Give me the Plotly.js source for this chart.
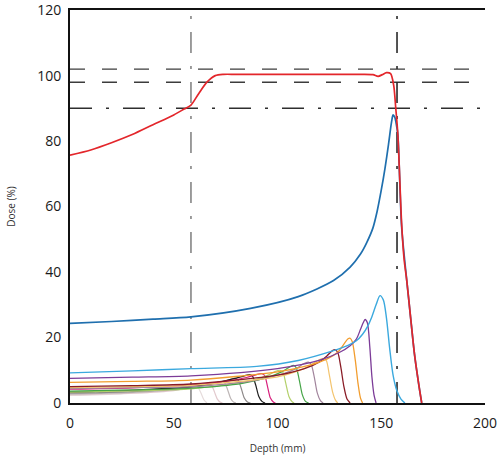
<!DOCTYPE html>
<html>
<head>
<meta charset="utf-8">
<script src="https://cdn.plot.ly/plotly-3.0.1.min.js"></script>
<style>html,body{margin:0;padding:0;background:#fff;}#chart{width:500px;height:459px;}</style>
</head>
<body>
<div id="chart"></div>
<script>
// ---- Data ----
const xTicks = [0, 50, 100, 150, 200];
const yTicks = [0, 20, 40, 60, 80, 100, 120];

// Reference levels (%) and depths (mm)
const refDashedLevels = [102, 98];
const refDashDotLevel = 90;
const refProximalDepth = 58.3;
const refDistalDepth = 157.6;

// Spread-out Bragg peak (red)
const sobpDepth = [0,10,20,30,40,50,55,58.3,62,66,70,74,80,100,120,140,146,148.5,150.5,152.5,154.5,156,157,158,159.8,161,162.3,164,166,168,169.5];
const sobpDose  = [75.7,77.3,79.5,82,85,88,89.8,91,94.5,98,100,100.4,100.4,100.4,100.4,100.4,100.3,99.8,100.3,100.9,100.6,97,90,82,55,44,37.4,27,15,6,0];

// Deepest weighted peak (dark blue)
const deepDepth = [0,20,40,58.3,87,110,127,135,140,143,146,148,150,151.8,153.5,155,155.7,156.5,157.3,158,159.8,162.3,164,166,168,169.5];
const deepDose  = [24.3,24.9,25.6,26.3,28.9,32.5,37.4,41.5,45.5,49,53.5,58.5,65,71.7,79,86,88,87.3,85,82,54,37.4,27,15,6,0];

// Pristine peaks
const cyanDepth = [0,30,58.3,90,110,127,134,138,141,143.5,145.4,147.5,149.4,151,152.5,154,155.7,157.5,159.5,161.4];
const cyanDose  = [9.2,9.8,10.5,11.2,13,16,17.6,19,21,23.5,26.2,30,32.8,31.5,26,17,8.5,3.8,1.2,0];

const purpleDepth = [0,30,58.3,100,120,130,135,138,140,141.3,142.2,143.3,144.5,145.5,146.5,147.5];
const purpleDose  = [7.5,7.9,8.3,10.5,13,15.5,17.5,19.5,22.5,24.5,25.5,24.5,17,8,2.5,0];

const orangeDepth = [0,30,58.3,100,115,124,129,132,134,134.9,136,137.5,138.8,140,141];
const orangeDose  = [6.3,6.6,7,9.5,11.5,13.5,15.5,18,19.6,19.8,18.8,13,6,1.5,0];

const maroonDepth = [0,30,58.3,100,113,120,124,126.5,127.7,129,130.5,132,133.5,135];
const maroonDose  = [5,5.3,5.8,8.5,10.5,12.5,14.5,16,16.3,15.5,11,5,1.2,0];

const lightOrangeDepth = [0,30,58.3,100,110,116,119.5,122.1,123.5,125,126.5,128,129];
const lightOrangeDose  = [4.7,5,5.4,8,9.8,11.5,13,13.6,13,8.5,3.5,0.8,0];

const mauveDepth = [0,30,58.3,90,103,109,112.5,114.8,116.2,117.7,119.2,120.7,122];
const mauveDose  = [4.4,4.7,5,7,9,10.5,12,12.5,11.8,8,3,0.7,0];

const greenDepth = [0,30,58.3,83,96,102,105.3,107.6,109,110.5,112,113.5,115];
const greenDose  = [3.6,4,4.5,6,8,9.5,10.8,11.5,10.8,7,2.5,0.5,0];

const limeDepth = [0,30,58.3,78,90,95.5,98.8,101.2,102.6,104,105.5,107,108];
const limeDose  = [3.3,3.7,4.3,5.8,7.3,8.5,9.6,10,9.4,6,2,0.4,0];

const magentaDepth = [0,30,58.3,75,85,89.5,92.4,93.8,95.2,96.6,98,99];
const magentaDose  = [4.2,4.6,5.5,6.6,7.8,8.6,9,8.4,5,1.5,0.3,0];

const blackDepth = [0,30,58.3,72,80,84,86.7,88,89.5,91,92.5,94];
const blackDose  = [3.3,3.9,5,6.4,7.6,8.3,8.7,8.1,5.5,2,0.5,0];

const grayDepth = [0,30,58.3,70,76,79.5,81,82.5,84,85.5,87];
const grayDose  = [3,3.5,4.8,6,7,7.5,7,4.5,1.5,0.3,0];

const lightGrayDepth = [0,30,55,64,70,73,74.5,76,77.5,79,80];
const lightGrayDose  = [2.7,3.2,4.3,5.3,6.2,6.6,6.2,4,1.3,0.2,0];

const palePinkDepth = [0,30,50,58,63,66.5,68,69.5,71,72.5,73.5];
const palePinkDose  = [2.5,3,3.8,4.8,5.6,6,5.6,3.6,1.2,0.2,0];

const paleDepth = [0,25,45,52,57,60,61.5,63,64.5,66];
const paleDose  = [2.3,2.8,3.6,4.5,5.2,5.5,5,3.2,1,0];

// ---- Traces ----
function curve(x, y, color, width) {
  return {x: x, y: y, type: 'scatter', mode: 'lines',
          line: {color: color, width: width, shape: 'spline', smoothing: 0.8},
          hoverinfo: 'skip'};
}
function refLine(x, y, color, width, dash) {
  return {x: x, y: y, type: 'scatter', mode: 'lines',
          line: {color: color, width: width, dash: dash}, hoverinfo: 'skip'};
}

const traces = [
  refLine([0, 200], [refDashedLevels[0], refDashedLevels[0]], '#3c3c3c', 1.4, '15px,17px'),
  refLine([0, 200], [refDashedLevels[1], refDashedLevels[1]], '#3c3c3c', 1.4, '15px,17px'),
  refLine([0, 200], [refDashDotLevel, refDashDotLevel], '#2e2e2e', 1.5, '22px,14px,3px,14px'),
  refLine([refProximalDepth, refProximalDepth], [0, 120], '#6a6a6a', 1.3, '21px,13px,3px,13px'),
  refLine([refDistalDepth, refDistalDepth], [0, 120], '#2a2a2a', 1.6, '21px,13px,3px,13px'),
  curve(paleDepth, paleDose, '#e6dcdc', 1.2),
  curve(palePinkDepth, palePinkDose, '#e2c9cd', 1.2),
  curve(lightGrayDepth, lightGrayDose, '#bdb6b6', 1.2),
  curve(grayDepth, grayDose, '#8c8888', 1.2),
  curve(blackDepth, blackDose, '#1e1e1e', 1.2),
  curve(magentaDepth, magentaDose, '#d81f7c', 1.2),
  curve(limeDepth, limeDose, '#b3d06a', 1.2),
  curve(greenDepth, greenDose, '#45a447', 1.2),
  curve(mauveDepth, mauveDose, '#a1849c', 1.2),
  curve(lightOrangeDepth, lightOrangeDose, '#f3c46e', 1.2),
  curve(maroonDepth, maroonDose, '#8a1c26', 1.3),
  curve(orangeDepth, orangeDose, '#f29d2e', 1.3),
  curve(purpleDepth, purpleDose, '#7c3c98', 1.3),
  curve(cyanDepth, cyanDose, '#3ba9de', 1.4),
  curve(deepDepth, deepDose, '#1f6fae', 1.7),
  curve(sobpDepth, sobpDose, '#e3262b', 1.7)
];

const layout = {
  width: 500, height: 459,
  margin: {l: 70, r: 15, t: 10, b: 56},
  paper_bgcolor: '#ffffff', plot_bgcolor: '#ffffff',
  showlegend: false,
  font: {family: '"Open Sans", Lato, sans-serif', color: '#1a1a1a'},
  xaxis: {
    range: [0, 200], tickvals: xTicks, ticktext: xTicks.map(String),
    showgrid: false, zeroline: false, ticks: '',
    showline: true, linecolor: '#111', linewidth: 2, mirror: true,
    tickfont: {size: 14, color: '#1a1a1a'}, ticklabelstandoff: 6,
    title: {text: 'Depth (mm)', font: {size: 10, color: '#333'}, standoff: 14}
  },
  yaxis: {
    range: [0, 120.05], tickvals: yTicks, ticktext: yTicks.map(String),
    showgrid: false, zeroline: false, ticks: '',
    showline: true, linecolor: '#111', linewidth: 2, mirror: false,
    tickfont: {size: 14, color: '#1a1a1a'}, ticklabelstandoff: 4,
    ticklabeloverflow: 'allow',
    title: {text: 'Dose (%)', font: {size: 10, color: '#333'}, standoff: 20}
  }
};

Plotly.newPlot('chart', traces, layout, {displayModeBar: false, staticPlot: true});
</script>
</body>
</html>
